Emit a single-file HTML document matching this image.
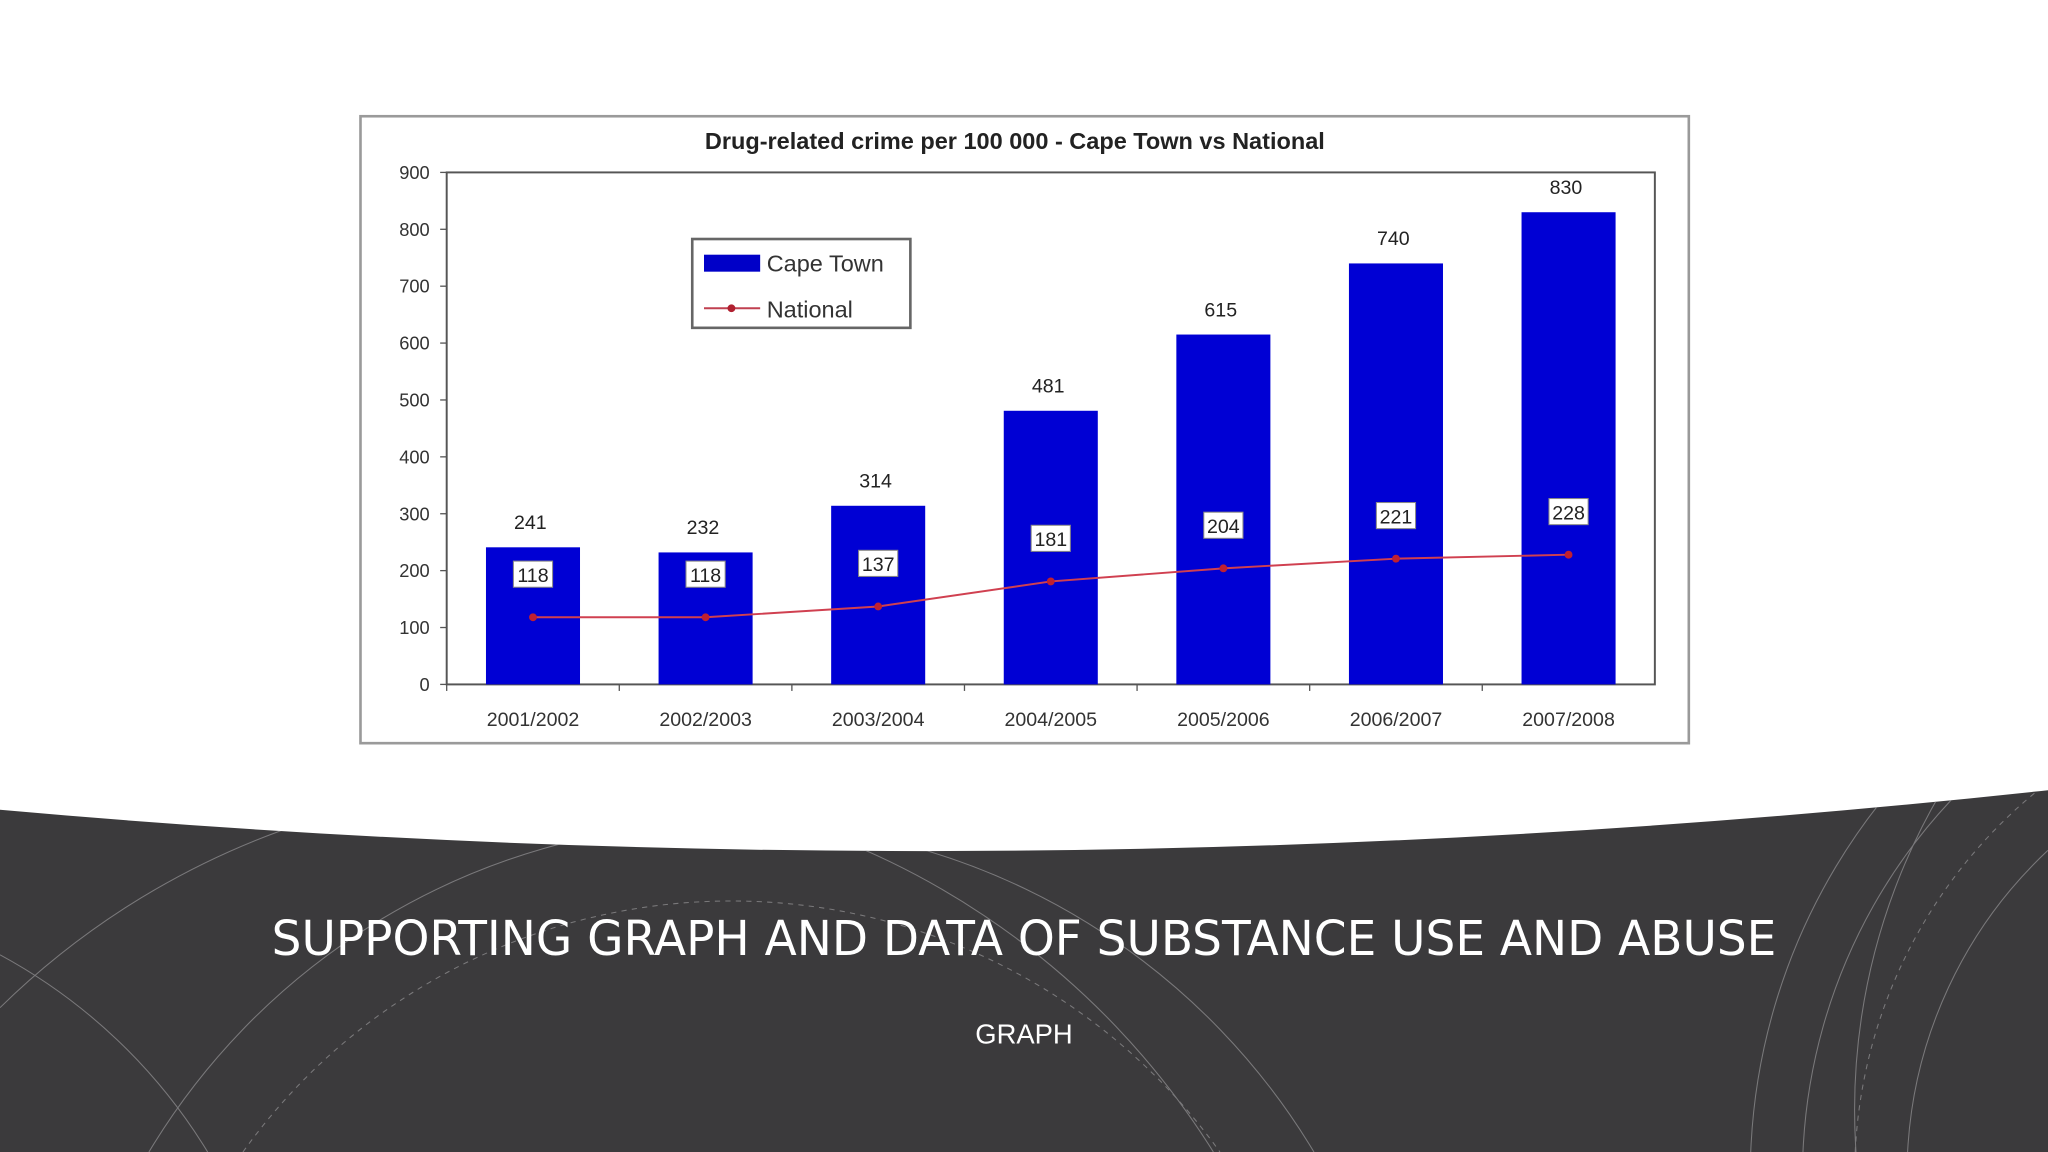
<!DOCTYPE html>
<html><head><meta charset="utf-8"><style>
html,body{margin:0;padding:0;background:#fff;width:2048px;height:1152px;overflow:hidden}
svg{display:block;overflow:hidden}
text{font-family:"Liberation Sans",sans-serif}
</style></head><body>
<svg id="s" width="2048" height="1152" viewBox="0 0 1568 882">
<rect width="1568" height="882" fill="#fff"/>
<g>
<path d="M0,620 Q784,690 1568,605 L1568,882 L0,882 Z" fill="#3b3a3c"/>
<clipPath id="fc"><path d="M0,620 Q784,690 1568,605 L1568,882 L0,882 Z"/></clipPath>
<g clip-path="url(#fc)" fill="none" stroke="#8a898b" stroke-width="0.8" opacity="0.8">
<path d="M114,882 A520,520 0 0 1 1006,882"/>
<path d="M186,882 A460,460 0 0 1 934,882" stroke-dasharray="4 4"/>
<path d="M0,771.5 A600,600 0 0 1 929,882"/>
<path d="M0,731 A420,420 0 0 1 159,882"/>
<path d="M1460.5,882 A340,340 0 0 1 1568,651"/>
<path d="M1420.4,882 A380,380 0 0 1 1568,599" stroke-dasharray="4 4"/>
<path d="M1380.4,882 A420,420 0 0 1 1568,550"/>
<path d="M1340.4,882 A460,460 0 0 1 1568,503"/>
<path d="M1421,882 A480,480 0 0 1 1568,503"/>
</g>
</g>
<text x="208" y="731" textLength="1152" lengthAdjust="spacingAndGlyphs" font-size="37" fill="#fff" style="font-family:'DejaVu Sans Condensed','Liberation Sans Narrow','Liberation Sans',sans-serif">SUPPORTING GRAPH AND DATA OF SUBSTANCE USE AND ABUSE</text>
<text x="784" y="799" text-anchor="middle" font-size="21" fill="#fff">GRAPH</text>

<g>
<rect x="276" y="89" width="1017" height="480" fill="#fff" stroke="#9a9a9a" stroke-width="2"/>
<text x="777" y="114" text-anchor="middle" font-size="18" font-weight="bold" fill="#222">Drug-related crime per 100 000 - Cape Town vs National</text>
<rect x="342" y="132" width="925" height="392" fill="none" stroke="#555" stroke-width="1.5"/>
<g id="yax"></g>
<g id="xax"></g>
<g id="bars"></g>
<g id="line"></g>
<g>
<rect x="530" y="183" width="167" height="68" fill="#fff" stroke="#666" stroke-width="2"/>
<rect x="539" y="195" width="43" height="13" fill="#0000c8"/>
<text x="587" y="208" font-size="18" fill="#333">Cape Town</text>
<line x1="539" y1="236" x2="582" y2="236" stroke="#c04050" stroke-width="1.5"/>
<circle cx="560" cy="236" r="3" fill="#b02030"/>
<text x="587" y="243" font-size="18" fill="#333">National</text>
</g>
</g>
</svg>
<script>
const categories=["2001/2002","2002/2003","2003/2004","2004/2005","2005/2006","2006/2007","2007/2008"];
const capeTown=[241,232,314,481,615,740,830];
const national=[118,118,137,181,204,221,228];
const yTicks=[0,100,200,300,400,500,600,700,800,900];
const NS="http://www.w3.org/2000/svg";
const X0=342,W=925,Y0=524,H=392,YMAX=900;
const bw=W/categories.length;
const xc=i=>X0+bw*(i+0.5);
const y=v=>Y0-v/YMAX*H;
function mk(t,a,p){const e=document.createElementNS(NS,t);for(const k in a)e.setAttribute(k,a[k]);p.appendChild(e);return e;}
const yax=document.getElementById('yax'),xax=document.getElementById('xax'),bars=document.getElementById('bars'),line=document.getElementById('line');
yTicks.forEach(v=>{
 mk('line',{x1:X0-5,x2:X0,y1:y(v),y2:y(v),stroke:'#555'},yax);
 const t=mk('text',{x:X0-13,y:y(v)+5,'text-anchor':'end','font-size':14,fill:'#333'},yax);
 
 
 t.textContent=v;
});
categories.forEach((c,i)=>{
 mk('line',{x1:X0+bw*i,x2:X0+bw*i,y1:Y0,y2:Y0+5,stroke:'#555'},xax);
 const t=mk('text',{x:xc(i),y:Y0+32,'text-anchor':'middle','font-size':15,fill:'#333'},xax);
 
 
 t.textContent=c;
});
capeTown.forEach((v,i)=>{
 const r=mk('rect',{x:xc(i)-36,y:y(v),width:72,height:Y0-y(v),fill:'#0000d4'},bars);
 
 
 const t=mk('text',{x:xc(i)-2,y:y(v)-14,'text-anchor':'middle','font-size':15,fill:'#222'},bars);
 
 
 t.textContent=v;
});
let d='';
national.forEach((v,i)=>{d+=(i?'L':'M')+xc(i)+','+y(v);});
const p=mk('path',{d:d,fill:'none',stroke:'#d04050','stroke-width':1.5},line);


national.forEach((v,i)=>{
 const c=mk('circle',{cx:xc(i),cy:y(v),r:3,fill:'#c02030'},line);
 
 
 const ly=y(v)-30;
 mk('rect',{x:xc(i)-15,y:ly-13,width:30,height:20,fill:'#fff',stroke:'#888','stroke-width':0.8},line);
 const t=mk('text',{x:xc(i),y:ly+3,'text-anchor':'middle','font-size':15,fill:'#222'},line);
 
 
 t.textContent=v;
});
</script>
</body></html>
